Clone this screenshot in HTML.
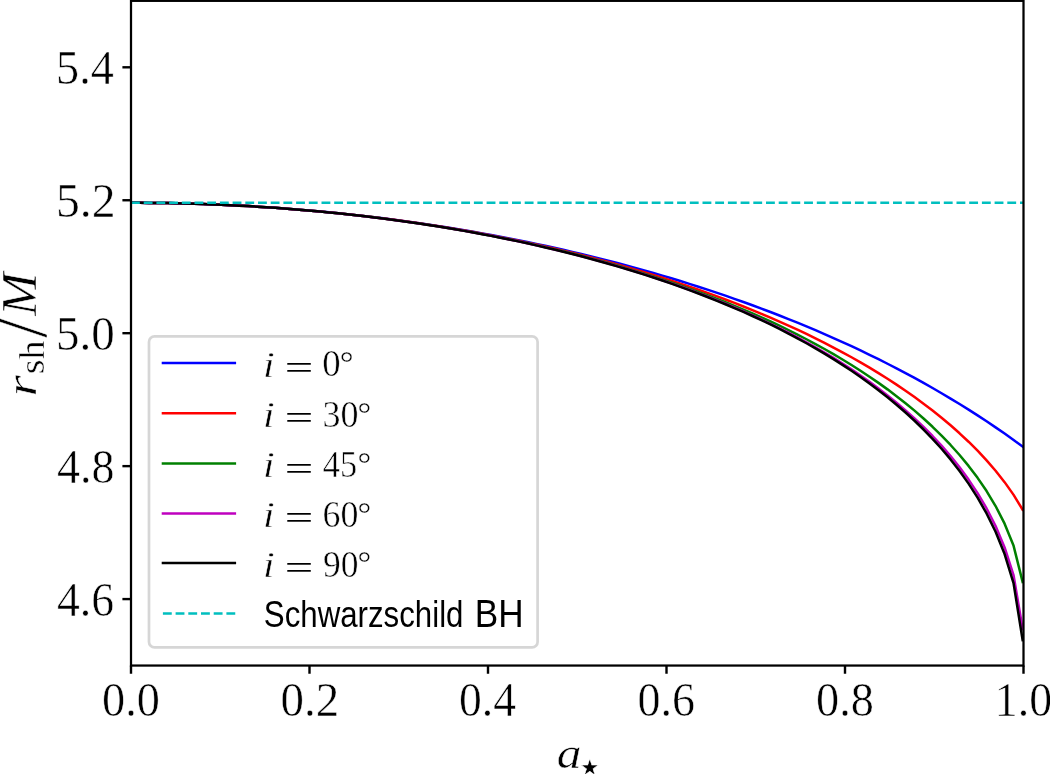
<!DOCTYPE html>
<html lang="en"><head><meta charset="utf-8"><title>Shadow radius vs spin</title>
<style>html,body{margin:0;padding:0;background:#fff;}body{width:1050px;height:774px;overflow:hidden;}svg{display:block;}</style>
</head><body>
<svg width="1050" height="774" viewBox="0 0 1050 774">
<rect x="0" y="0" width="1050" height="774" fill="#fff"/>
<defs><clipPath id="ax"><rect x="131.00" y="0.83" width="892.50" height="664.72"/></clipPath></defs>
<g clip-path="url(#ax)" fill="none" stroke-width="2.50" stroke-linejoin="round" stroke-linecap="square">
<polyline stroke="#0000ff" points="131.00,202.80 140.01,202.82 149.01,202.88 158.02,202.98 167.02,203.12 176.03,203.29 185.04,203.51 194.04,203.76 203.05,204.06 212.06,204.39 221.06,204.76 230.07,205.17 239.07,205.62 248.08,206.12 257.09,206.65 266.09,207.22 275.10,207.83 284.10,208.48 293.11,209.17 302.12,209.90 311.12,210.68 320.13,211.49 329.13,212.34 338.14,213.24 347.15,214.18 356.15,215.16 365.16,216.18 374.17,217.24 383.17,218.34 392.18,219.49 401.18,220.68 410.19,221.91 419.20,223.19 428.20,224.51 437.21,225.88 446.21,227.29 455.22,228.74 464.23,230.24 473.23,231.78 482.24,233.37 491.25,235.01 500.25,236.70 509.26,238.43 518.26,240.21 527.27,242.03 536.28,243.91 545.28,245.83 554.29,247.81 563.29,249.83 572.30,251.91 581.31,254.04 590.31,256.21 599.32,258.45 608.33,260.73 617.33,263.07 626.34,265.47 635.34,267.92 644.35,270.43 653.36,272.99 662.36,275.62 671.37,278.30 680.37,281.04 689.38,283.84 698.39,286.71 707.39,289.64 716.40,292.63 725.41,295.69 734.41,298.82 743.42,302.01 752.42,305.28 761.43,308.61 770.44,312.02 779.44,315.50 788.45,319.06 797.45,322.69 806.46,326.41 815.47,330.20 824.47,334.08 833.48,338.04 842.48,342.09 851.49,346.23 860.50,350.47 869.50,354.79 878.51,359.22 887.52,363.75 896.52,368.38 905.53,373.11 914.53,377.96 923.54,382.93 932.55,388.01 941.55,393.22 950.56,398.55 959.56,404.02 968.57,409.62 977.58,415.38 986.58,421.28 995.59,427.35 1004.60,433.58 1013.60,439.98 1022.61,446.57"/>
<polyline stroke="#ff0000" points="131.00,202.80 140.01,202.82 149.01,202.88 158.02,202.98 167.02,203.12 176.03,203.29 185.04,203.51 194.04,203.76 203.05,204.06 212.06,204.39 221.06,204.76 230.07,205.17 239.07,205.63 248.08,206.12 257.09,206.65 266.09,207.22 275.10,207.84 284.10,208.49 293.11,209.19 302.12,209.92 311.12,210.70 320.13,211.52 329.13,212.38 338.14,213.28 347.15,214.22 356.15,215.21 365.16,216.24 374.17,217.31 383.17,218.43 392.18,219.59 401.18,220.79 410.19,222.04 419.20,223.34 428.20,224.68 437.21,226.07 446.21,227.50 455.22,228.98 464.23,230.51 473.23,232.09 482.24,233.72 491.25,235.39 500.25,237.12 509.26,238.90 518.26,240.73 527.27,242.61 536.28,244.55 545.28,246.53 554.29,248.58 563.29,250.68 572.30,252.84 581.31,255.05 590.31,257.33 599.32,259.67 608.33,262.06 617.33,264.52 626.34,267.05 635.34,269.64 644.35,272.29 653.36,275.02 662.36,277.81 671.37,280.68 680.37,283.62 689.38,286.64 698.39,289.74 707.39,292.91 716.40,296.17 725.41,299.51 734.41,302.95 743.42,306.47 752.42,310.09 761.43,313.80 770.44,317.61 779.44,321.53 788.45,325.56 797.45,329.71 806.46,333.97 815.47,338.35 824.47,342.87 833.48,347.52 842.48,352.32 851.49,357.26 860.50,362.37 869.50,367.65 878.51,373.11 887.52,378.77 896.52,384.63 905.53,390.72 914.53,397.05 923.54,403.64 932.55,410.53 941.55,417.74 950.56,425.31 959.56,433.29 968.57,441.73 977.58,450.71 986.58,460.34 995.59,470.74 1004.60,482.15 1013.60,494.90 1022.61,509.68"/>
<polyline stroke="#008000" points="131.00,202.80 140.01,202.82 149.01,202.88 158.02,202.98 167.02,203.12 176.03,203.29 185.04,203.51 194.04,203.76 203.05,204.06 212.06,204.39 221.06,204.76 230.07,205.18 239.07,205.63 248.08,206.12 257.09,206.66 266.09,207.23 275.10,207.84 284.10,208.50 293.11,209.20 302.12,209.93 311.12,210.71 320.13,211.53 329.13,212.40 338.14,213.30 347.15,214.25 356.15,215.25 365.16,216.28 374.17,217.36 383.17,218.49 392.18,219.66 401.18,220.87 410.19,222.14 419.20,223.44 428.20,224.80 437.21,226.20 446.21,227.66 455.22,229.16 464.23,230.71 473.23,232.31 482.24,233.96 491.25,235.66 500.25,237.42 509.26,239.23 518.26,241.10 527.27,243.02 536.28,244.99 545.28,247.03 554.29,249.12 563.29,251.28 572.30,253.49 581.31,255.77 590.31,258.11 599.32,260.52 608.33,263.00 617.33,265.54 626.34,268.15 635.34,270.84 644.35,273.60 653.36,276.44 662.36,279.35 671.37,282.35 680.37,285.43 689.38,288.60 698.39,291.85 707.39,295.20 716.40,298.64 725.41,302.18 734.41,305.82 743.42,309.58 752.42,313.44 761.43,317.41 770.44,321.51 779.44,325.74 788.45,330.10 797.45,334.59 806.46,339.24 815.47,344.04 824.47,349.00 833.48,354.14 842.48,359.46 851.49,364.99 860.50,370.72 869.50,376.68 878.51,382.89 887.52,389.36 896.52,396.13 905.53,403.22 914.53,410.66 923.54,418.50 932.55,426.78 941.55,435.58 950.56,444.96 959.56,455.02 968.57,465.92 977.58,477.83 986.58,491.05 995.59,506.05 1004.60,523.66 1013.60,545.84 1022.61,581.96"/>
<polyline stroke="#bf00bf" points="131.00,202.80 140.01,202.82 149.01,202.88 158.02,202.98 167.02,203.12 176.03,203.29 185.04,203.51 194.04,203.76 203.05,204.06 212.06,204.39 221.06,204.76 230.07,205.18 239.07,205.63 248.08,206.12 257.09,206.66 266.09,207.23 275.10,207.85 284.10,208.50 293.11,209.20 302.12,209.94 311.12,210.72 320.13,211.55 329.13,212.41 338.14,213.32 347.15,214.27 356.15,215.27 365.16,216.31 374.17,217.39 383.17,218.52 392.18,219.70 401.18,220.92 410.19,222.19 419.20,223.51 428.20,224.87 437.21,226.28 446.21,227.75 455.22,229.26 464.23,230.82 473.23,232.44 482.24,234.10 491.25,235.82 500.25,237.60 509.26,239.43 518.26,241.31 527.27,243.26 536.28,245.26 545.28,247.32 554.29,249.45 563.29,251.63 572.30,253.88 581.31,256.19 590.31,258.58 599.32,261.03 608.33,263.55 617.33,266.14 626.34,268.80 635.34,271.55 644.35,274.37 653.36,277.27 662.36,280.25 671.37,283.33 680.37,286.49 689.38,289.74 698.39,293.08 707.39,296.53 716.40,300.08 725.41,303.73 734.41,307.50 743.42,311.38 752.42,315.38 761.43,319.51 770.44,323.77 779.44,328.17 788.45,332.72 797.45,337.42 806.46,342.28 815.47,347.31 824.47,352.53 833.48,357.94 842.48,363.57 851.49,369.41 860.50,375.50 869.50,381.84 878.51,388.47 887.52,395.40 896.52,402.68 905.53,410.33 914.53,418.39 923.54,426.93 932.55,436.00 941.55,445.68 950.56,456.07 959.56,467.31 968.57,479.59 977.58,493.17 986.58,508.45 995.59,526.10 1004.60,547.39 1013.60,575.49 1022.61,628.94"/>
<polyline stroke="#000000" points="131.00,202.80 140.01,202.82 149.01,202.88 158.02,202.98 167.02,203.12 176.03,203.29 185.04,203.51 194.04,203.76 203.05,204.06 212.06,204.39 221.06,204.76 230.07,205.18 239.07,205.63 248.08,206.12 257.09,206.66 266.09,207.23 275.10,207.85 284.10,208.51 293.11,209.20 302.12,209.94 311.12,210.72 320.13,211.55 329.13,212.42 338.14,213.33 347.15,214.28 356.15,215.28 365.16,216.32 374.17,217.40 383.17,218.54 392.18,219.71 401.18,220.94 410.19,222.21 419.20,223.53 428.20,224.89 437.21,226.31 446.21,227.78 455.22,229.29 464.23,230.86 473.23,232.48 482.24,234.15 491.25,235.88 500.25,237.66 509.26,239.49 518.26,241.39 527.27,243.34 536.28,245.35 545.28,247.42 554.29,249.55 563.29,251.75 572.30,254.01 581.31,256.33 590.31,258.73 599.32,261.19 608.33,263.73 617.33,266.33 626.34,269.02 635.34,271.78 644.35,274.62 653.36,277.54 662.36,280.55 671.37,283.64 680.37,286.83 689.38,290.11 698.39,293.48 707.39,296.96 716.40,300.54 725.41,304.23 734.41,308.04 743.42,311.96 752.42,316.01 761.43,320.18 770.44,324.49 779.44,328.95 788.45,333.55 797.45,338.31 806.46,343.24 815.47,348.35 824.47,353.65 833.48,359.15 842.48,364.86 851.49,370.80 860.50,376.99 869.50,383.46 878.51,390.21 887.52,397.28 896.52,404.71 905.53,412.52 914.53,420.77 923.54,429.51 932.55,438.80 941.55,448.73 950.56,459.41 959.56,470.99 968.57,483.64 977.58,497.67 986.58,513.49 995.59,531.81 1004.60,554.01 1013.60,583.46 1022.61,640.14"/>
<line x1="131.00" y1="202.80" x2="1023.50" y2="202.80" stroke="#00bfbf" stroke-linecap="butt" stroke-dasharray="8.85 3.85"/>
</g>
<rect x="149.0" y="336.4" width="388.6" height="311.0" rx="5.5" ry="5.5" fill="#fff" fill-opacity="0.8" stroke="#cccccc" stroke-opacity="0.8" stroke-width="2.7"/>
<line x1="161.7" y1="363.0" x2="236.1" y2="363.0" stroke="#0000ff" stroke-width="2.50"/>
<line x1="161.7" y1="413.2" x2="236.1" y2="413.2" stroke="#ff0000" stroke-width="2.50"/>
<line x1="161.7" y1="463.6" x2="236.1" y2="463.6" stroke="#008000" stroke-width="2.50"/>
<line x1="161.7" y1="513.4" x2="236.1" y2="513.4" stroke="#bf00bf" stroke-width="2.50"/>
<line x1="161.7" y1="563.1" x2="236.1" y2="563.1" stroke="#000000" stroke-width="2.50"/>
<line x1="162.9" y1="613.5" x2="235.25" y2="613.5" stroke="#00bfbf" stroke-width="2.50" stroke-dasharray="8.85 3.85"/>
<text transform="translate(262.94 376.55) scale(1.1397 1.0000)" font-family='"Liberation Serif", serif' font-style="italic" font-size="36.48" fill="#000" stroke="#fff" stroke-width="0.5" vector-effect="non-scaling-stroke">i</text>
<text transform="translate(284.87 378.99) scale(1.5051 1.0000)" font-family='"Liberation Serif", serif' font-size="33.60" fill="#000" stroke="#fff" stroke-width="0" vector-effect="non-scaling-stroke">=</text>
<text transform="translate(322.25 376.48) scale(0.9881 1.0000)" font-family='"Liberation Serif", serif' font-size="37.24" fill="#000" stroke="#fff" stroke-width="0.5" vector-effect="non-scaling-stroke">0</text>
<text transform="translate(339.78 374.33) scale(1.0000 1.0000)" font-family='"Liberation Serif", serif' font-size="34.62" fill="#000" stroke="#fff" stroke-width="0.3" vector-effect="non-scaling-stroke">°</text>
<text transform="translate(262.94 426.75) scale(1.1397 1.0000)" font-family='"Liberation Serif", serif' font-style="italic" font-size="36.48" fill="#000" stroke="#fff" stroke-width="0.5" vector-effect="non-scaling-stroke">i</text>
<text transform="translate(284.87 429.19) scale(1.5051 1.0000)" font-family='"Liberation Serif", serif' font-size="33.60" fill="#000" stroke="#fff" stroke-width="0" vector-effect="non-scaling-stroke">=</text>
<text transform="translate(322.42 426.68) scale(0.9667 1.0000)" font-family='"Liberation Serif", serif' font-size="37.24" fill="#000" stroke="#fff" stroke-width="0.5" vector-effect="non-scaling-stroke">30</text>
<text transform="translate(357.40 424.53) scale(0.9905 1.0000)" font-family='"Liberation Serif", serif' font-size="34.62" fill="#000" stroke="#fff" stroke-width="0.3" vector-effect="non-scaling-stroke">°</text>
<text transform="translate(262.94 477.15) scale(1.1397 1.0000)" font-family='"Liberation Serif", serif' font-style="italic" font-size="36.48" fill="#000" stroke="#fff" stroke-width="0.5" vector-effect="non-scaling-stroke">i</text>
<text transform="translate(284.87 479.59) scale(1.5051 1.0000)" font-family='"Liberation Serif", serif' font-size="33.60" fill="#000" stroke="#fff" stroke-width="0" vector-effect="non-scaling-stroke">=</text>
<text transform="translate(322.81 477.07) scale(0.9090 1.0000)" font-family='"Liberation Serif", serif' font-size="37.80" fill="#000" stroke="#fff" stroke-width="0.5" vector-effect="non-scaling-stroke">45</text>
<text transform="translate(357.40 474.93) scale(0.9905 1.0000)" font-family='"Liberation Serif", serif' font-size="34.62" fill="#000" stroke="#fff" stroke-width="0.3" vector-effect="non-scaling-stroke">°</text>
<text transform="translate(262.94 526.95) scale(1.1397 1.0000)" font-family='"Liberation Serif", serif' font-style="italic" font-size="36.48" fill="#000" stroke="#fff" stroke-width="0.5" vector-effect="non-scaling-stroke">i</text>
<text transform="translate(284.87 529.39) scale(1.5051 1.0000)" font-family='"Liberation Serif", serif' font-size="33.60" fill="#000" stroke="#fff" stroke-width="0" vector-effect="non-scaling-stroke">=</text>
<text transform="translate(322.55 526.88) scale(0.9632 1.0000)" font-family='"Liberation Serif", serif' font-size="37.24" fill="#000" stroke="#fff" stroke-width="0.5" vector-effect="non-scaling-stroke">60</text>
<text transform="translate(357.40 524.73) scale(0.9905 1.0000)" font-family='"Liberation Serif", serif' font-size="34.62" fill="#000" stroke="#fff" stroke-width="0.3" vector-effect="non-scaling-stroke">°</text>
<text transform="translate(262.94 576.65) scale(1.1397 1.0000)" font-family='"Liberation Serif", serif' font-style="italic" font-size="36.48" fill="#000" stroke="#fff" stroke-width="0.5" vector-effect="non-scaling-stroke">i</text>
<text transform="translate(284.87 579.09) scale(1.5051 1.0000)" font-family='"Liberation Serif", serif' font-size="33.60" fill="#000" stroke="#fff" stroke-width="0" vector-effect="non-scaling-stroke">=</text>
<text transform="translate(322.92 576.58) scale(0.9528 1.0000)" font-family='"Liberation Serif", serif' font-size="37.24" fill="#000" stroke="#fff" stroke-width="0.5" vector-effect="non-scaling-stroke">90</text>
<text transform="translate(357.40 574.43) scale(0.9905 1.0000)" font-family='"Liberation Serif", serif' font-size="34.62" fill="#000" stroke="#fff" stroke-width="0.3" vector-effect="non-scaling-stroke">°</text>
<text transform="translate(263.84 626.63) scale(0.8423 1.0000)" font-family='"Liberation Sans", sans-serif' font-size="37.09" fill="#000" stroke="#fff" stroke-width="0" vector-effect="non-scaling-stroke">Schwarzschild </text>
<text transform="translate(474.87 626.70) scale(0.9108 1.0000)" font-family='"Liberation Sans", sans-serif' font-size="38.59" fill="#000" stroke="#fff" stroke-width="0" vector-effect="non-scaling-stroke">BH</text>
<rect x="131.00" y="0.83" width="892.50" height="664.72" fill="none" stroke="#000" stroke-width="2.25"/>
<g stroke="#000" stroke-width="2.4">
<line x1="131.00" y1="665.55" x2="131.00" y2="673.75"/>
<line x1="309.50" y1="665.55" x2="309.50" y2="673.75"/>
<line x1="488.00" y1="665.55" x2="488.00" y2="673.75"/>
<line x1="666.50" y1="665.55" x2="666.50" y2="673.75"/>
<line x1="845.00" y1="665.55" x2="845.00" y2="673.75"/>
<line x1="1023.50" y1="665.55" x2="1023.50" y2="673.75"/>
<line x1="122.40" y1="599.08" x2="131.00" y2="599.08"/>
<line x1="122.40" y1="466.13" x2="131.00" y2="466.13"/>
<line x1="122.40" y1="333.19" x2="131.00" y2="333.19"/>
<line x1="122.40" y1="200.25" x2="131.00" y2="200.25"/>
<line x1="122.40" y1="67.30" x2="131.00" y2="67.30"/>
</g>
<text transform="translate(102.05 715.85) scale(0.9573 1.0000)" font-family='"Liberation Serif", serif' font-size="48.38" fill="#000" stroke="#fff" stroke-width="0.5" vector-effect="non-scaling-stroke">0.0</text>
<text transform="translate(280.53 715.85) scale(0.9711 1.0000)" font-family='"Liberation Serif", serif' font-size="48.38" fill="#000" stroke="#fff" stroke-width="0.5" vector-effect="non-scaling-stroke">0.2</text>
<text transform="translate(459.08 715.85) scale(0.9413 1.0000)" font-family='"Liberation Serif", serif' font-size="48.38" fill="#000" stroke="#fff" stroke-width="0.5" vector-effect="non-scaling-stroke">0.4</text>
<text transform="translate(637.56 715.85) scale(0.9519 1.0000)" font-family='"Liberation Serif", serif' font-size="48.38" fill="#000" stroke="#fff" stroke-width="0.5" vector-effect="non-scaling-stroke">0.6</text>
<text transform="translate(816.05 715.85) scale(0.9573 1.0000)" font-family='"Liberation Serif", serif' font-size="48.38" fill="#000" stroke="#fff" stroke-width="0.5" vector-effect="non-scaling-stroke">0.8</text>
<text transform="translate(994.83 715.85) scale(0.9466 1.0000)" font-family='"Liberation Serif", serif' font-size="48.38" fill="#000" stroke="#fff" stroke-width="0.5" vector-effect="non-scaling-stroke">1.0</text>
<text transform="translate(56.98 615.64) scale(0.9496 1.0000)" font-family='"Liberation Serif", serif' font-size="48.18" fill="#000" stroke="#fff" stroke-width="0.5" vector-effect="non-scaling-stroke">4.6</text>
<text transform="translate(56.98 482.69) scale(0.9596 1.0000)" font-family='"Liberation Serif", serif' font-size="47.94" fill="#000" stroke="#fff" stroke-width="0.5" vector-effect="non-scaling-stroke">4.8</text>
<text transform="translate(56.03 349.75) scale(0.9810 1.0000)" font-family='"Liberation Serif", serif' font-size="47.94" fill="#000" stroke="#fff" stroke-width="0.5" vector-effect="non-scaling-stroke">5.0</text>
<text transform="translate(56.00 216.80) scale(0.9905 1.0000)" font-family='"Liberation Serif", serif' font-size="48.18" fill="#000" stroke="#fff" stroke-width="0.5" vector-effect="non-scaling-stroke">5.2</text>
<text transform="translate(56.08 83.85) scale(0.9502 1.0000)" font-family='"Liberation Serif", serif' font-size="48.66" fill="#000" stroke="#fff" stroke-width="0.5" vector-effect="non-scaling-stroke">5.4</text>
<text transform="translate(556.72 767.55) scale(1.0924 1.0000)" font-family='"Liberation Serif", serif' font-style="italic" font-size="45.21" fill="#000" stroke="#fff" stroke-width="0.5" vector-effect="non-scaling-stroke">a</text>
<text transform="translate(575.68 781.83) scale(0.9820 1.0000)" font-family='"DejaVu Sans", sans-serif' font-size="45.56" fill="#000" stroke="#fff" stroke-width="0.5" vector-effect="non-scaling-stroke">⋆</text>
<g transform="translate(36.2 395) rotate(-90)">
<text transform="translate(-1.40 0.00) scale(1.2588 1.0000)" font-family='"Liberation Serif", serif' font-style="italic" font-size="43.62" fill="#000" stroke="#fff" stroke-width="0.5" vector-effect="non-scaling-stroke">r</text>
<text transform="translate(20.68 8.15) scale(1.0736 1.0000)" font-family='"Liberation Serif", serif' font-size="35.40" fill="#000" stroke="#fff" stroke-width="0.5" vector-effect="non-scaling-stroke">sh</text>
<text transform="translate(56.23 6.06) scale(1.1027 1.0000)" font-family='"DejaVu Sans", sans-serif' font-weight="200" font-size="58.30" fill="#000" stroke="#fff" stroke-width="0.5" vector-effect="non-scaling-stroke">/</text>
<text transform="translate(79.29 0.00) scale(1.0177 1.0000)" font-family='"Liberation Serif", serif' font-style="italic" font-size="50.82" fill="#000" stroke="#fff" stroke-width="0.5" vector-effect="non-scaling-stroke">M</text>
</g>
</svg></body></html>
